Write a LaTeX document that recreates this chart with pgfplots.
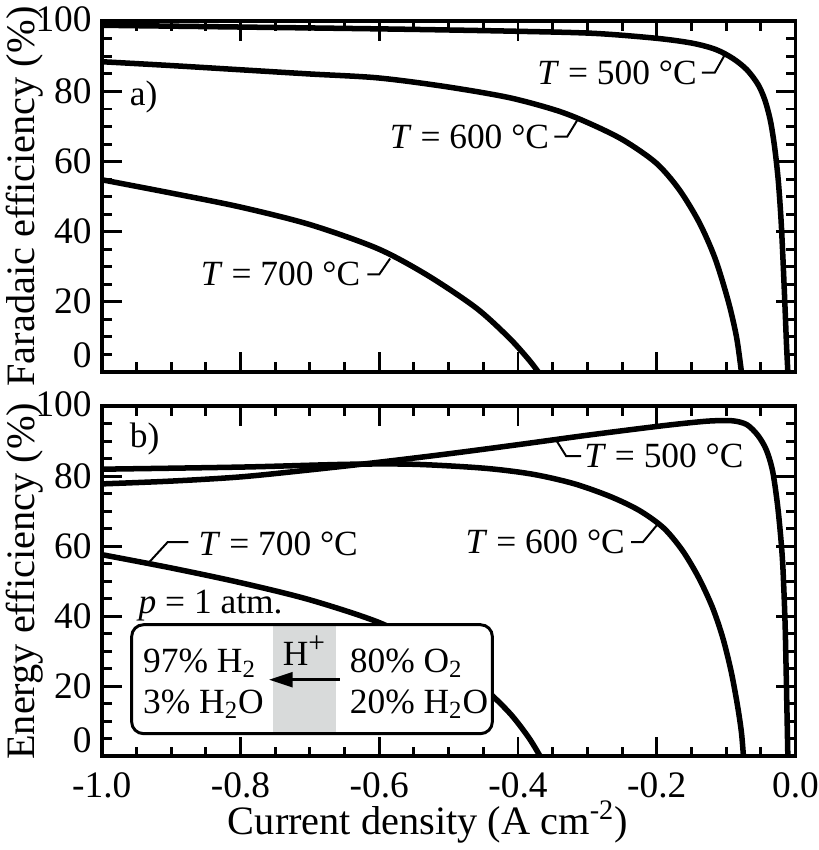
\documentclass[border=0pt]{standalone}
\usepackage{fontspec}
\setmainfont{Liberation Serif}
\usepackage{pgfplots}
\pgfplotsset{compat=1.18}
\usetikzlibrary{arrows.meta}
\definecolor{bandgray}{RGB}{216,218,218}
\tikzset{lead/.style={line width=1pt, black},
  ann/.style={font=\fontsize{18}{20}\selectfont, inner sep=0pt}}

\pgfplotsset{
  panel/.style={
    width=352.5pt, height=178pt, scale only axis,
    xmin=-1, xmax=0, ymin=0, ymax=100,
    axis line style={line width=2pt},
    every tick/.style={line width=1.5pt, black},
    major tick length=10pt, minor tick length=5pt,
    tick align=inside,
    xtick={-1,-0.8,-0.6,-0.4,-0.2,0},
    ytick={0,20,40,60,80,100},
    minor x tick num=3, minor y tick num=3,
    yticklabels={\raisebox{17pt}{0},20,40,60,80,\raisebox{2pt}{100}},
    /pgf/number format/assume math mode=true,
    ticklabel style={font=\fontsize{19}{19}\selectfont, inner sep=0pt},
    yticklabel shift=5pt,
    xticklabel shift=8pt,
    label style={font=\fontsize{20.5}{21}\selectfont},
    ylabel style={at={(axis description cs:-0.1106,0.5)}, anchor=center},
    curve/.style={line width=2.8pt, black, line join=round, smooth},
  }
}

\begin{document}
\begin{tikzpicture}
% ---------------- bottom panel ----------------
\begin{axis}[panel,
  xticklabels={-1.0,-0.8,-0.6,-0.4,-0.2,0.0},
  xlabel={Current density (A cm\textsuperscript{-2})},
  xlabel style={at={(axis description cs:0.47,0)}, anchor=center, yshift=-33.5pt},
  ylabel={Energy efficiency (\%)},
]
% T = 500
\addplot[curve] coordinates {
(-1.0,77.8) (-0.90,78.6) (-0.80,79.8) (-0.70,81.8) (-0.60,84.0) (-0.50,86.4) (-0.40,89.0)
(-0.30,91.7) (-0.20,94.2) (-0.15,95.3) (-0.12,95.8) (-0.09,95.8) (-0.07,94.7) (-0.054,91.6)
(-0.042,87.5) (-0.033,81.5) (-0.026,72) (-0.021,62) (-0.018,53.4) (-0.015,38) (-0.013,20) (-0.011,0)};
% T = 600
\addplot[curve] coordinates {
(-1.0,82) (-0.80,82.6) (-0.645,83.4) (-0.55,83.4) (-0.45,82.3) (-0.38,80.6) (-0.32,77.9)
(-0.267,74.2) (-0.225,70.2) (-0.19,65.2) (-0.163,58.8) (-0.14,51.2) (-0.12,42.7) (-0.105,34)
(-0.093,24.5) (-0.084,15) (-0.078,7) (-0.075,0)};
% T = 700
\addplot[curve] coordinates {
(-1.0,57.6) (-0.90,53.8) (-0.80,49.6) (-0.70,44.7) (-0.60,38.2) (-0.532,31.2)
(-0.461,21.5) (-0.414,12.8) (-0.385,5.5) (-0.368,0)};

% inset box
\fill[white, rounded corners=6pt] (axis cs:-0.957,6.5) rectangle (axis cs:-0.437,37.6);
\fill[bandgray] (axis cs:-0.753,6.5) rectangle (axis cs:-0.662,37.6);
\draw[line width=1.5pt, rounded corners=6pt] (axis cs:-0.957,6.5) rectangle (axis cs:-0.437,37.6);
\draw[line width=1.5pt, -{Triangle[length=12pt,width=7.5pt]}] (axis cs:-0.657,21.9) -- (axis cs:-0.759,21.9);
\node[ann, anchor=west] at (axis cs:-0.941,26.7) {97\% H\textsubscript{2}};
\node[ann, anchor=west] at (axis cs:-0.941,14.9) {3\% H\textsubscript{2}O};
\node[ann] at (axis cs:-0.708,30.2) {H\textsuperscript{\fontsize{15}{15}\selectfont +}};
\node[ann, anchor=west] at (axis cs:-0.643,26.7) {80\% O\textsubscript{2}};
\node[ann, anchor=west] at (axis cs:-0.643,14.9) {20\% H\textsubscript{2}O};
\node[ann, anchor=west] at (axis cs:-0.9475,43.0) {\textit{p} = 1 atm.};
\node[ann, anchor=west] at (axis cs:-0.960,90.7) {b)};

% labels
\node[ann, anchor=west] at (axis cs:-0.305,85.7) {\textit{T} = 500 °C};
\draw[lead] (axis cs:-0.3092,85.7) -- (axis cs:-0.3305,85.7) -- (axis cs:-0.3447,90.2);
\node[ann, anchor=east] at (axis cs:-0.2454,61.2) {\textit{T} = 600 °C};
\draw[lead] (axis cs:-0.2369,61.2) -- (axis cs:-0.2199,61.2) -- (axis cs:-0.1986,66.3);
\node[ann, anchor=west] at (axis cs:-0.861,60.7) {\textit{T} = 700 °C};
\draw[lead] (axis cs:-0.8752,61.2) -- (axis cs:-0.905,61.2) -- (axis cs:-0.9319,55.4);
\end{axis}

% ---------------- top panel ----------------
\begin{axis}[panel, yshift=195.5pt,
  xticklabels={},
  ylabel={Faradaic efficiency (\%)},
]
% T = 500
\addplot[curve] coordinates {
(-1.0,98.9) (-0.80,98.4) (-0.574,97.8) (-0.404,97.2) (-0.291,96.6) (-0.201,95.2)
(-0.149,93.8) (-0.115,92) (-0.09,89.4) (-0.07,86.2) (-0.054,82) (-0.044,77.5) (-0.036,71.5)
(-0.030,64) (-0.025,55) (-0.021,44) (-0.018,32) (-0.015,18) (-0.013,8) (-0.011,0)};
% T = 600
\addplot[curve] coordinates {
(-1.0,88.5) (-0.90,87.4) (-0.80,86.2) (-0.70,85.0) (-0.603,83.9) (-0.508,81.5)
(-0.414,78.3) (-0.343,74.5) (-0.296,70.8) (-0.248,66.1) (-0.201,59.6) (-0.168,52.1)
(-0.139,42.7) (-0.116,32.4) (-0.097,20.2) (-0.085,9.9) (-0.078,0)};
% T = 700
\addplot[curve] coordinates {
(-1.0,54.8) (-0.90,51) (-0.80,47) (-0.70,42.0) (-0.603,35.2) (-0.532,27.7)
(-0.461,18.3) (-0.414,9.9) (-0.386,3.8) (-0.371,0)};

\node[ann, anchor=west] at (axis cs:-0.960,78.4) {a)};
\node[ann, anchor=east] at (axis cs:-0.1418,85.4) {\textit{T} = 500 °C};
\draw[lead] (axis cs:-0.1348,85.4) -- (axis cs:-0.1163,85.4) -- (axis cs:-0.1021,90.4);
\node[ann, anchor=east] at (axis cs:-0.3546,67.1) {\textit{T} = 600 °C};
\draw[lead] (axis cs:-0.3475,67.1) -- (axis cs:-0.3291,67.1) -- (axis cs:-0.3121,72.6);
\node[ann, anchor=east] at (axis cs:-0.6270,27.8) {\textit{T} = 700 °C};
\draw[lead] (axis cs:-0.617,27.8) -- (axis cs:-0.600,27.8) -- (axis cs:-0.5844,32.3);
\end{axis}
\end{tikzpicture}
\end{document}
